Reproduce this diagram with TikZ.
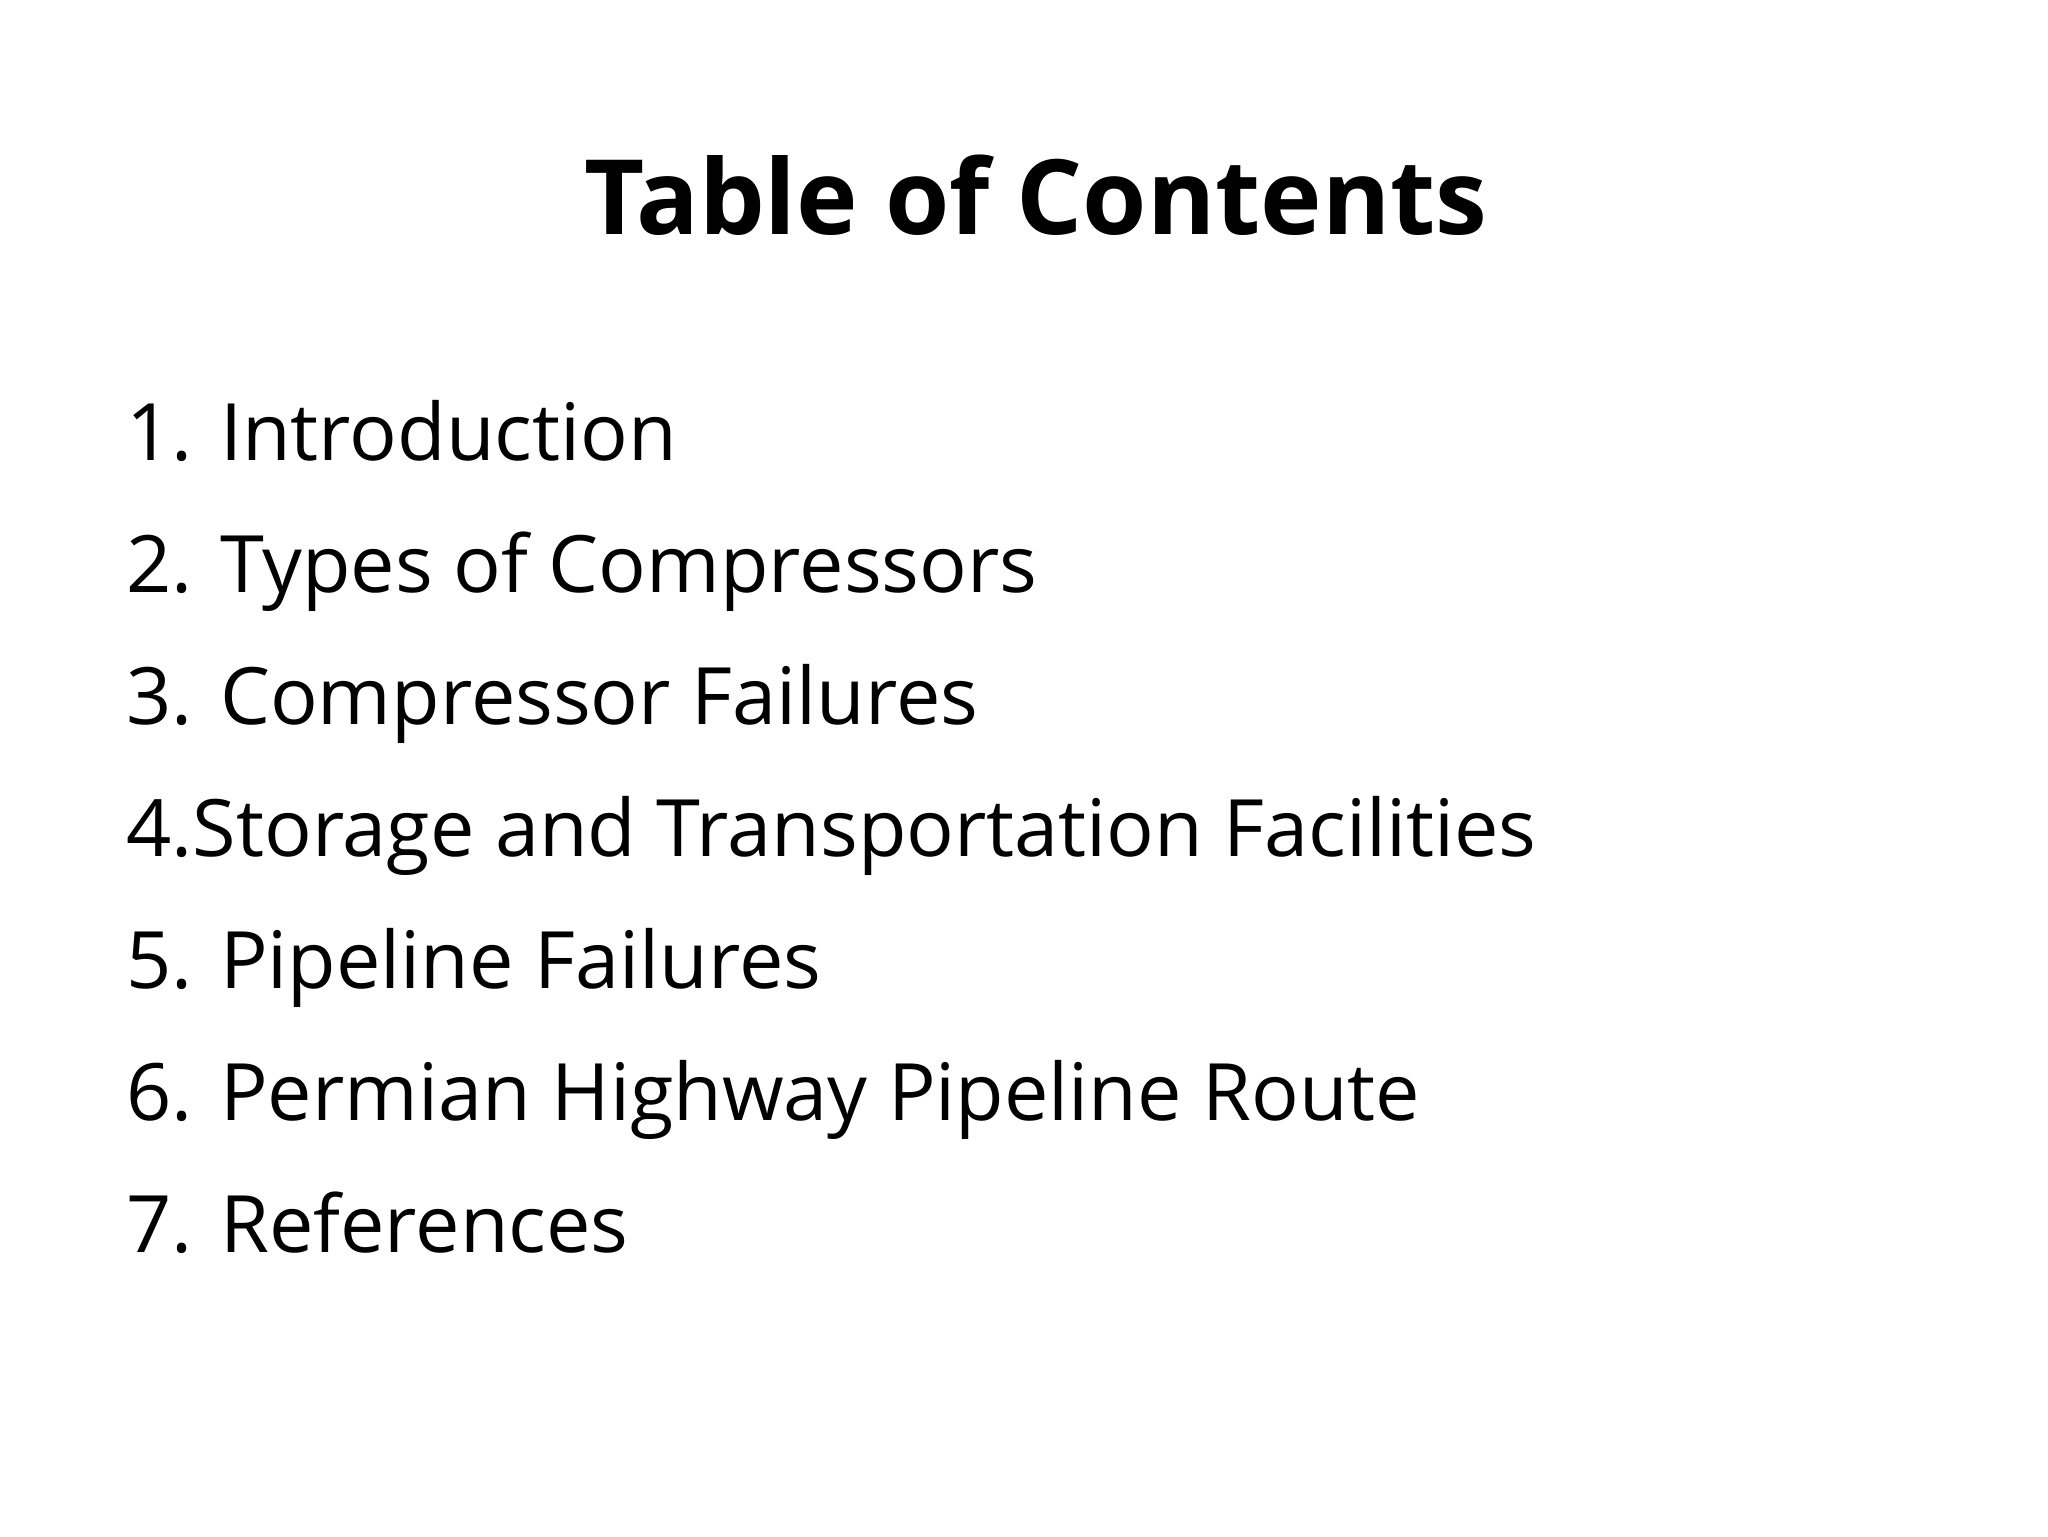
\documentclass[tikz,border=0pt]{standalone}
\usepackage{fontspec}
\setmainfont{Open Sans}
\begin{document}
\begin{tikzpicture}[x=0.5pt,y=-0.5pt,
  item/.style={anchor=base west,inner sep=0pt,font=\fontsize{39.6}{48}\selectfont}]
\useasboundingbox[fill=white] (0,0) rectangle (2048,1536);
\node[anchor=base,inner sep=0pt,font=\fontsize{52}{62}\selectfont\bfseries] (title) at (1036,234) {Table of Contents};
\node[item] (i1) at (126,460) {1. Introduction};
\node[item] (i2) at (126,592) {2. Types of Compressors};
\node[item] (i3) at (126,724) {3. Compressor Failures};
\node[item] (i4) at (126,856) {4.Storage and Transportation Facilities};
\node[item] (i5) at (126,988) {5. Pipeline Failures};
\node[item] (i6) at (126,1120) {6. Permian Highway Pipeline Route};
\node[item] (i7) at (126,1252) {7. References};
\end{tikzpicture}
\end{document}
